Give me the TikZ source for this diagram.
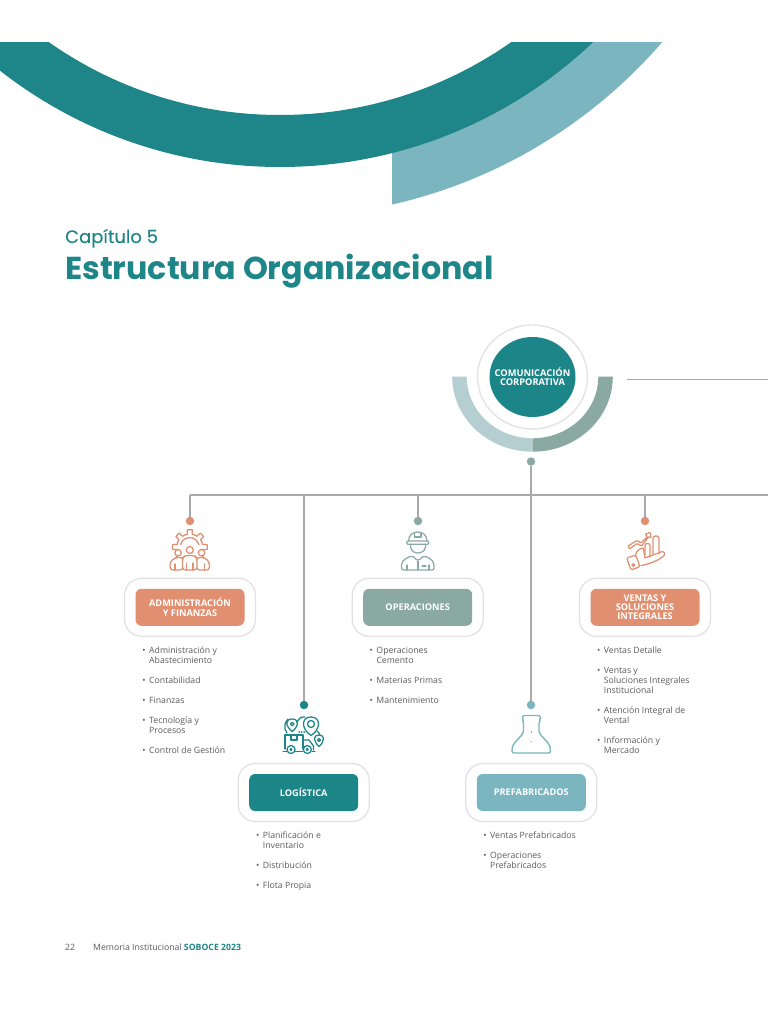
\documentclass[tikz,border=0pt]{standalone}
\usepackage{fontspec}
\setmainfont{Open Sans}
\newfontfamily\titlefont{Poppins}
\newfontfamily\chapterfont[FakeBold=0.35]{Poppins}
\usetikzlibrary{shapes.geometric}

\definecolor{tealdark}{HTML}{1E8688}
\definecolor{tealmid}{HTML}{1B8587}
\definecolor{bluelight}{HTML}{7BB5BF}
\definecolor{sage}{HTML}{89A9A2}
\definecolor{sagelight}{HTML}{B4CED1}
\definecolor{coral}{HTML}{E09070}
\definecolor{ringgray}{HTML}{E2E2E2}
\definecolor{linegray}{HTML}{A9A9A9}
\definecolor{textgray}{HTML}{5C5C5C}

\newcommand{\itemdot}{\llap{\textbullet\hspace{3.6pt}}}

\tikzset{
  outerbox/.style={draw=ringgray, line width=1.3pt, fill=white, rounded corners=17pt, minimum width=131pt, minimum height=58pt, inner sep=0pt},
  innerbox/.style={rounded corners=6pt, minimum width=109pt, minimum height=37pt, inner sep=0pt, text=white, align=center, font=\fontsize{9.2}{9.2}\selectfont\bfseries},
  itemlist/.style={anchor=north west, inner sep=0pt, align=left, text=textgray, font=\fontsize{8.7}{10}\selectfont},
  dotnode/.style={circle, minimum size=8.5pt, inner sep=0pt},
  branch/.style={linegray, line width=1.1pt},
  iconline/.style={line width=1.25pt, line join=round, line cap=round}
}

\begin{document}
\begin{tikzpicture}[x=1pt,y=-1pt]

\useasboundingbox (0,0) rectangle (768,1024);
\fill [white] (0,0) rectangle (768,1024);

% Top bands
\begin{scope}
  \clip (392,43) rectangle (768,300);
  \fill [bluelight, even odd rule] (280,-288) circle (505) (280,-288) circle (450);
\end{scope}
\begin{scope}
  \clip (0,43) rectangle (768,300);
  \fill [tealdark, even odd rule] (280,-288) circle (455) (280,-288) circle (403);
\end{scope}

% Title
\node [anchor=base west, inner sep=0pt, text=tealdark, font=\chapterfont\fontsize{18}{18}\selectfont] (chapter) at (65,243) {Capítulo 5};
\node [anchor=base west, inner sep=0pt, text=tealdark, font=\titlefont\fontsize{31.7}{32}\selectfont\bfseries] (title) at (65,279) {Estructura Organizacional};

% Half ring under the top circle
\fill [sagelight] (452.2,376.7) arc [start angle=180, end angle=90, x radius=80.3, y radius=75] -- (532.5,438.3) arc [start angle=90, end angle=180, x radius=65.8, y radius=61.6] -- cycle;
\fill [sage] (612.8,376.7) arc [start angle=0, end angle=90, x radius=80.3, y radius=75] -- (532.5,438.3) arc [start angle=90, end angle=0, x radius=65.8, y radius=61.6] -- cycle;

% Top circle
\node [ellipse, draw=ringgray, line width=1.3pt, minimum width=110pt, minimum height=104pt, inner sep=0pt] (corpring) at (532.5,377) {};
\node [ellipse, fill=tealmid, minimum width=86pt, minimum height=80pt, inner sep=0pt] (corp) at (532.5,377) {};
\node [text=white, align=center, inner sep=0pt, font=\fontsize{9.3}{9.2}\selectfont\bfseries] (corptext) at (corp) {COMUNICACIÓN\\CORPORATIVA};

% Dots
\node [dotnode, fill=sage] (dottop) at (531,461.5) {};
\node [dotnode, fill=coral] (dotadmin) at (190,521) {};
\node [dotnode, fill=sage] (dotoper) at (418,521) {};
\node [dotnode, fill=coral] (dotventas) at (645,521) {};
\node [dotnode, fill=tealmid] (dotlog) at (304,705) {};
\node [dotnode, fill=bluelight] (dotprefab) at (531,705) {};
\coordinate (busend) at (768,495);
\coordinate (corpstart) at (627,379.5);
\coordinate (corpend) at (768,379.5);

% Lines
\draw [branch] (corpstart) -- (corpend);
\draw [branch] (dotadmin |- busend) -- (busend);
\draw [branch] (dottop) -- (dotprefab);
\draw [branch] (dotlog |- busend) -- (dotlog);
\foreach \d in {dotadmin, dotoper, dotventas}
  \draw [branch] (\d |- busend) -- (\d);

% Boxes
\node [outerbox] (adminouter) at (190,607.3) {};
\node [innerbox, fill=coral] (admin) at (adminouter) {ADMINISTRACIÓN\\Y FINANZAS};
\node [outerbox] (operouter) at (417.7,607.3) {};
\node [innerbox, fill=sage] (oper) at (operouter) {OPERACIONES};
\node [outerbox] (ventasouter) at (645,607.3) {};
\node [innerbox, fill=coral] (ventas) at (ventasouter) {VENTAS Y\\SOLUCIONES\\INTEGRALES};
\node [outerbox] (logouter) at (303.7,792.5) {};
\node [innerbox, fill=tealmid] (log) at (logouter) {LOGÍSTICA};
\node [outerbox] (prefabouter) at (531.3,792.5) {};
\node [innerbox, fill=bluelight] (prefab) at (prefabouter) {PREFABRICADOS};

% Lists
\node [itemlist] (adminlist) at (149,647) {\itemdot Administración y\\Abastecimiento\\[9.9pt]\itemdot Contabilidad\\[9.9pt]\itemdot Finanzas\\[9.9pt]\itemdot Tecnología y\\Procesos\\[9.9pt]\itemdot Control de Gestión};
\node [itemlist] (operlist) at (376.3,647) {\itemdot Operaciones\\Cemento\\[9.9pt]\itemdot Materias Primas\\[9.9pt]\itemdot Mantenimiento};
\node [itemlist] (ventaslist) at (603.7,647) {\itemdot Ventas Detalle\\[9.9pt]\itemdot Ventas y\\Soluciones Integrales\\Institucional\\[9.9pt]\itemdot Atención Integral de\\Vental\\[9.9pt]\itemdot Información y\\Mercado};
\node [itemlist] (loglist) at (262.7,832) {\itemdot Planificación e\\Inventario\\[9.9pt]\itemdot Distribución\\[9.9pt]\itemdot Flota Propia};
\node [itemlist] (prefablist) at (490,832) {\itemdot Ventas Prefabricados\\[9.9pt]\itemdot Operaciones\\Prefabricados};

% Gear and people
\begin{scope}[shift={(189.8,547)}, iconline, coral]
  \foreach \a in {-225,-180,-135,-90,-45,0,45}
    \draw ({\a-22.5}:13) -- ({\a-11}:13) -- ({\a-8}:17.5) -- ({\a+8}:17.5) -- ({\a+11}:13) -- ({\a+22.5}:13);
  \draw (-165:9.5) arc [start angle=-165, end angle=-15, radius=9.5];
\end{scope}
\begin{scope}[iconline, draw=coral]
  \draw [fill=white] (178,552.7) circle (3.2);
  \draw [fill=white] (201.5,552.7) circle (3.2);
  \draw [rounded corners=3pt, fill=white] (170,570) -- (170,562) -- (175,557.5) -- (183,557.5) -- (183,570) -- cycle;
  \draw [rounded corners=3pt, fill=white] (209.5,570) -- (209.5,562) -- (204.5,557.5) -- (196.5,557.5) -- (196.5,570) -- cycle;
  \draw [fill=white] (189.8,550) circle (3.5);
  \draw [rounded corners=3pt, fill=white] (182.5,570) -- (182.5,558) -- (185,555.5) -- (194.5,555.5) -- (197,558) -- (197,570) -- cycle;
  \draw (186.5,570) -- (186.5,563) (193,570) -- (193,563) (175,570) -- (175,564) (204.5,570) -- (204.5,564);
\end{scope}

% Worker
\begin{scope}[iconline, draw=sage]
  \draw (408.5,541) .. controls (408.5,529) and (427,529) .. (427,541);
  \draw [rounded corners=1pt] (406.8,541) -- (428.7,541) -- (428.7,544.3) -- (406.8,544.3) -- cycle;
  \draw (414.5,532.5) -- (414.5,537) -- (421,537) -- (421,532.5);
  \draw (410.5,544.3) -- (410.5,547) .. controls (412,555) and (424,555) .. (425.5,547) -- (425.5,544.3);
  \draw [rounded corners=2pt] (401.5,570) -- (401.5,563) -- (404,559.5) -- (412,555.5) -- (418,561) -- (424,555.5) -- (431.5,559.5) -- (434,563) -- (434,570) -- cycle;
  \draw (418,561) -- (418,570) (407,570) -- (407,565) (429,570) -- (429,565) (422,566) -- (426,566);
\end{scope}

% Hand with chart
\begin{scope}[iconline, draw=coral]
  \draw [rounded corners=0.8pt] (628,546) -- (637,540.5) -- (641,543) -- (647.5,536.5) -- (645,534) -- (650.5,532.5) -- (651,538) -- (649,536.5) -- (641.5,546) -- (637,543.5) -- (629.5,549) -- cycle;
  \draw [rounded corners=2pt] (645,555) -- (645,543.5) -- (650,543.5) -- (650,557);
  \draw [rounded corners=2.5pt] (653,554) -- (653,536) -- (659,536) -- (659,554);
  \draw (635.7,555) .. controls (636,551) and (640,548) .. (643.3,548.3) -- (645,558) -- (661.7,551.7) .. controls (665,551) and (665.5,555) .. (663,556.5) .. controls (656,562) and (648,564) .. (641,565.7);
  \draw [rounded corners=1.5pt] (626.7,558) -- (635.7,555) -- (640,566.7) -- (631,570) -- cycle;
  \draw (633.3,565) circle (1.4);
\end{scope}

% Truck and pins
\begin{scope}[iconline, draw=tealmid]
  \draw (297,722) .. controls (300,717) and (302,716) .. (305,717);
  \draw (287,733) .. controls (283,728) and (285,722) .. (288,719);
  \draw (317,731) .. controls (319,733) and (320,734) .. (320,735);
  \draw (311,717) .. controls (301,717) and (301,729) .. (311,735.5) .. controls (321,729) and (321,717) .. (311,717) -- cycle;
  \draw (311,724) circle (3.5);
  \draw (292.3,719) .. controls (285,719) and (285,726) .. (292.3,731.5) .. controls (299,726) and (299,719) .. (292.3,719) -- cycle;
  \draw (292.3,724) circle (1.8);
  \draw (319,735) .. controls (313,735) and (313,741) .. (319,746.5) .. controls (325,741) and (325,735) .. (319,735) -- cycle;
  \draw (319,740) circle (1.5);
  \draw (285,749) -- (285,735) -- (303,735) -- (303,749);
  \draw (291,735) -- (291,740) -- (297,740) -- (297,735);
  \draw (303,740) -- (309,740) -- (313.5,746) -- (313.5,750);
  \draw (283,751.5) -- (287,751.5) (295.5,751.5) -- (302.5,751.5) (312,751.5) -- (315,751.5);
  \draw (291,749.5) circle (4);
  \draw (307.3,749.5) circle (4);
  \draw (291,749.5) circle (1);
  \draw (307.3,749.5) circle (1);
  \foreach \x in {299,301.5,304}
    \draw (\x,732) -- (\x+0.4,732);
\end{scope}

% Flask
\begin{scope}[iconline, draw=bluelight]
  \draw [line width=1.4pt, rounded corners=2pt] (522.5,715.5) -- (540.5,715.5) -- (540.5,719) -- (539,722) -- (539,733) -- (549,744) -- (550.5,748) -- (550.5,753) -- (512,753) -- (512,748) -- (513.5,744) -- (523.5,733) -- (523.5,722) -- (522.5,719) -- cycle;
  \draw (531.3,732) -- (531.5,732) (531.3,741.5) -- (531.5,741.5);
\end{scope}

% Footer
\node [anchor=base west, inner sep=0pt, text=textgray, font=\fontsize{8.7}{10}\selectfont] (pagenum) at (65,950) {22};
\node [anchor=base west, inner sep=0pt, text=textgray, font=\fontsize{8.7}{10}\selectfont] (footer) at (93,950) {Memoria Institucional \textcolor{tealdark}{\textbf{SOBOCE 2023}}};

\end{tikzpicture}
\end{document}
